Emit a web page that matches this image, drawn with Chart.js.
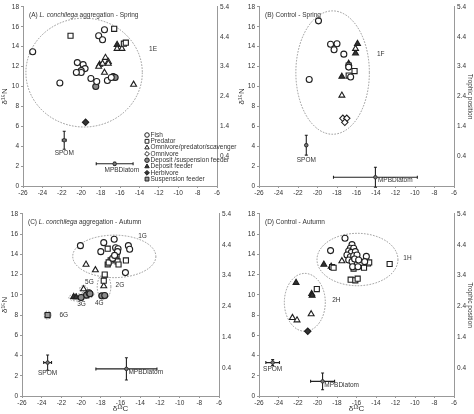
<!DOCTYPE html>
<html><head><meta charset="utf-8">
<script src="https://cdn.jsdelivr.net/npm/chart.js@4/dist/chart.umd.min.js"></script>
<style>
html,body{margin:0;padding:0;background:#fff;}
#wrap{position:relative;width:474px;height:414px;overflow:hidden;background:#fff;}
canvas{position:absolute;}
</style></head><body><div id="wrap">
<canvas id="cA" width="237" height="207" style="left:0;top:0"></canvas>
<canvas id="cB" width="237" height="207" style="left:237px;top:0"></canvas>
<canvas id="cC" width="237" height="207" style="left:0;top:207px"></canvas>
<canvas id="cD" width="237" height="207" style="left:237px;top:207px"></canvas>
</div>
<script>
// ---------- tick values ----------
const xTicks = [-26,-24,-22,-20,-18,-16,-14,-12,-10,-8,-6];
const yTicks = [0,2,4,6,8,10,12,14,16,18];
const tpTicks = [0.4,1.4,2.4,3.4,4.4,5.4];
const legendLabels = ['Fish','Predator','Omnivore/predator/scavenger','Omnivore','Deposit /suspension feeder','Deposit feeder','Herbivore','Suspension feeder'];

// ---------- Panel A : L. conchilega aggregation - Spring ----------
const A_fish = [[-25.0,13.5],[-17.6,15.7],[-18.2,15.1],[-17.8,14.7],[-20.4,12.4],[-19.8,12.2],[-19.6,11.8],[-20.0,11.6],[-20.0,11.4],[-20.5,11.4],[-19.0,10.8],[-18.4,10.5],[-17.3,10.6],[-22.2,10.35],[-16.9,10.9]];
const A_predator = [[-21.1,15.1],[-16.6,15.8],[-15.6,14.3],[-15.4,14.4]];
const A_omnPredScav = [[-16.3,13.8],[-15.8,13.8],[-17.5,12.9],[-17.2,12.5],[-18.2,12.0],[-17.8,12.3],[-17.6,11.4],[-14.6,10.2],[-17.2,12.3]];
const A_omnivore = [];
const A_depSusp = [[-18.5,10.0],[-16.7,11.0],[-16.5,10.9]];
const A_depFeeder = [[-16.3,14.2],[-18.1,12.2]];
const A_herbivore = [[-19.55,6.4]];
const A_suspFeeder = [];
const A_sources = [['SPOM',-21.75,4.6,0.2,0.9],['MPBDiatom',-16.55,2.23,1.9,0.15]];
const A_ellipses = [['1E',-19.7,11.4,6.0,5.47]];

// ---------- Panel B : Control - Spring ----------
const B_fish = [[-19.9,16.6],[-18.66,14.24],[-18.0,14.3],[-18.3,13.7],[-17.3,13.25],[-20.85,10.7],[-16.8,11.95],[-16.6,10.95]];
const B_predator = [[-16.2,11.55],[-16.8,11.1],[-16.8,12.1]];
const B_omnPredScav = [[-17.5,9.1],[-16.1,13.8]];
const B_omnivore = [[-17.4,6.8],[-17.0,6.8],[-17.2,6.4]];
const B_depSusp = [];
const B_depFeeder = [[-15.9,14.3],[-16.1,13.35],[-16.8,12.3],[-17.5,11.0]];
const B_herbivore = [];
const B_suspFeeder = [];
const B_sources = [['SPOM',-21.15,4.1,0.1,1.0],['MPBDiatom',-14.06,0.88,4.3,1.0]];
const B_ellipses = [['1F',-18.45,11.4,3.77,6.2]];

// ---------- Panel C : L. conchilega aggregation - Autumn ----------
const C_fish = [[-20.07,14.86],[-17.7,15.16],[-16.64,15.49],[-18.0,14.27],[-16.5,14.66],[-16.25,14.56],[-16.3,14.27],[-15.2,14.86],[-15.07,14.5],[-15.5,12.2],[-16.8,13.6],[-16.6,13.9]];
const C_predator = [[-17.3,14.56],[-16.4,13.8],[-16.5,13.5],[-16.3,13.3],[-16.2,13.0],[-17.0,13.4],[-17.2,13.2],[-15.45,13.4],[-17.6,12.0],[-17.7,11.4]];
const C_omnPredScav = [[-19.5,13.0],[-18.55,12.45],[-17.7,10.87],[-19.75,10.57]];
const C_omnivore = [];
const C_depSusp = [[-17.9,9.9],[-17.6,9.94],[-19.45,9.97],[-19.2,10.2],[-19.1,10.1],[-20.0,9.74]];
const C_depFeeder = [[-20.75,9.8],[-20.5,9.77]];
const C_herbivore = [];
const C_suspFeeder = [[-17.3,13.0],[-23.4,8.0]];
const C_sources = [['SPOM',-23.4,3.3,0.4,0.75],['MPBDiatom',-15.4,2.68,3.1,1.1]];
const C_ellipses = [['1G',-16.63,13.8,4.22,2.1],['2G',-17.67,10.8,0.69,1.24],['5G',-19.75,10.57,0.4,0.35],['4G',-19.3,10.07,0.6,0.4],['3G',-20.4,9.74,0.85,0.35],['6G',-23.4,8.0,0.35,0.4]];

// ---------- Panel D : Control - Autumn ----------
const D_fish = [[-17.18,15.59],[-18.66,14.37],[-16.46,14.96],[-16.63,14.6],[-16.29,14.6],[-16.8,14.33],[-16.53,14.2],[-16.12,14.27],[-16.98,13.94],[-16.63,13.77],[-16.29,13.87],[-15.95,13.94],[-16.8,13.44],[-16.46,13.28],[-16.19,13.54],[-16.4,12.78],[-15.85,12.78],[-15.78,13.44],[-14.99,13.8],[-15.16,13.28]];
const D_predator = [[-16.3,12.6],[-14.82,13.1],[-14.7,13.2],[-15.23,12.68],[-12.6,13.05],[-16.6,11.5],[-16.12,11.43],[-15.88,11.6],[-18.5,12.75],[-18.35,12.68],[-20.07,10.57],[-16.8,14.0],[-16.5,13.6]];
const D_omnPredScav = [[-17.5,13.34],[-20.65,8.1],[-22.57,7.73],[-22.1,7.5],[-18.6,12.8]];
const D_omnivore = [];
const D_depSusp = [];
const D_depFeeder = [[-19.35,13.0],[-22.2,11.2],[-20.6,10.1],[-20.55,9.94]];
const D_herbivore = [[-21.0,6.4]];
const D_suspFeeder = [];
const D_sources = [['SPOM',-24.6,3.3,0.7,0.3],['MPBDiatom',-19.48,1.45,1.23,0.83]];
const D_ellipses = [['1H',-15.9,13.49,4.15,2.59],['2H',-21.3,9.26,2.1,2.86]];

// ---------- styles ----------
const FONT = "'Liberation Sans', Arial, sans-serif";
const groupStyles = [
  {style:'circle', bg:'#ffffff', r:3},
  {style:'rect', bg:'#ffffff', r:3.6},
  {style:'triangle', bg:'#ffffff', r:3.4},
  {style:'rectRot', bg:'#ffffff', r:3.2},
  {style:'circle', bg:'#8a8a8a', r:3},
  {style:'triangle', bg:'#333333', r:3.4},
  {style:'rectRot', bg:'#333333', r:3.2},
  {style:'rect', bg:'#9a9a9a', r:3.6}
];

const panels = {
  cA: {groups:[A_fish,A_predator,A_omnPredScav,A_omnivore,A_depSusp,A_depFeeder,A_herbivore,A_suspFeeder], sources:A_sources, ellipses:A_ellipses,
       title:['(A) ','L. conchilega',' aggregation - Spring'], yw:23, y2w:20, xh:21, pt:3, tpMin:-0.6, yTitle:true, y2Title:false, xTitle:false, legend:true,
       elabel:{'1E':[-13.0,13.7]}, slabel:{SPOM:[-21.75,3.25,'center'],MPBDiatom:[-17.6,1.55,'left']}},
  cB: {groups:[B_fish,B_predator,B_omnPredScav,B_omnivore,B_depSusp,B_depFeeder,B_herbivore,B_suspFeeder], sources:B_sources, ellipses:B_ellipses,
       title:['(B) Control - Spring'], yw:22, y2w:20, xh:21, pt:3, tpMin:-0.6, yTitle:true, y2Title:true, xTitle:false, legend:false,
       elabel:{'1F':[-13.9,13.2]}, slabel:{SPOM:[-21.15,2.6,'center'],MPBDiatom:[-13.8,0.55,'left']}},
  cC: {groups:[C_fish,C_predator,C_omnPredScav,C_omnivore,C_depSusp,C_depFeeder,C_herbivore,C_suspFeeder], sources:C_sources, ellipses:C_ellipses,
       title:['(C) ','L. conchilega',' aggregation - Autumn'], yw:22, y2w:18, xh:18, pt:4, tpMin:-0.5, yTitle:true, y2Title:false, xTitle:true, legend:false,
       elabel:{'1G':[-14.2,15.8],'2G':[-16.5,10.96],'5G':[-19.6,11.2],'4G':[-18.6,9.2],'3G':[-20.4,9.05],'6G':[-22.2,8.0]}, slabel:{SPOM:[-23.4,2.25,'center'],MPBDiatom:[-15.2,2.35,'left']}},
  cD: {groups:[D_fish,D_predator,D_omnPredScav,D_omnivore,D_depSusp,D_depFeeder,D_herbivore,D_suspFeeder], sources:D_sources, ellipses:D_ellipses,
       title:['(D) Control - Autumn'], yw:22, y2w:20, xh:18, pt:4, tpMin:-0.5, yTitle:false, y2Title:true, xTitle:true, legend:false,
       elabel:{'1H':[-11.2,13.67],'2H':[-18.5,9.45]}, slabel:{SPOM:[-24.6,2.65,'center'],MPBDiatom:[-19.3,1.05,'left']}}
};

const overlay = {
  id:'overlay',
  beforeDatasetsDraw(chart){
    const p = panels[chart.canvas.id]; const xs=chart.scales.x, ys=chart.scales.y, ctx=chart.ctx;
    ctx.save();
    ctx.strokeStyle='#8c8c8c'; ctx.lineWidth=0.9; ctx.setLineDash([1.6,1.4]);
    p.ellipses.forEach(e=>{
      const cx=xs.getPixelForValue(e[1]), cy=ys.getPixelForValue(e[2]);
      const rx=Math.abs(xs.getPixelForValue(e[1]+e[3])-cx), ry=Math.abs(ys.getPixelForValue(e[2]+e[4])-cy);
      ctx.beginPath(); ctx.ellipse(cx,cy,rx,ry,0,0,Math.PI*2); ctx.stroke();
    });
    ctx.setLineDash([]);
    ctx.strokeStyle='#222'; ctx.lineWidth=1.1;
    p.sources.forEach(s=>{
      const cx=xs.getPixelForValue(s[1]), cy=ys.getPixelForValue(s[2]);
      const x0=xs.getPixelForValue(s[1]-s[3]), x1=xs.getPixelForValue(s[1]+s[3]);
      const y0=ys.getPixelForValue(s[2]-s[4]), y1=ys.getPixelForValue(s[2]+s[4]);
      ctx.beginPath();
      ctx.moveTo(x0,cy); ctx.lineTo(x1,cy);
      ctx.moveTo(x0,cy-1.5); ctx.lineTo(x0,cy+1.5);
      ctx.moveTo(x1,cy-1.5); ctx.lineTo(x1,cy+1.5);
      ctx.moveTo(cx,y0); ctx.lineTo(cx,y1);
      ctx.moveTo(cx-1.5,y0); ctx.lineTo(cx+1.5,y0);
      ctx.moveTo(cx-1.5,y1); ctx.lineTo(cx+1.5,y1);
      ctx.stroke();
    });
    ctx.restore();
  },
  afterDatasetsDraw(chart){
    const p = panels[chart.canvas.id]; const xs=chart.scales.x, ys=chart.scales.y, ctx=chart.ctx, ca=chart.chartArea;
    ctx.save();
    ctx.fillStyle='#333'; ctx.textBaseline='middle';
    let tx = ca.left+6, ty = ca.top+8;
    p.title.forEach((t,i)=>{
      ctx.font = (i===1?'italic ':'') + '6.5px ' + FONT;
      ctx.textAlign='left'; ctx.fillText(t,tx,ty); tx += ctx.measureText(t).width;
    });
    ctx.font='6.5px '+FONT;
    Object.keys(p.elabel).forEach(k=>{
      const v=p.elabel[k]; ctx.textAlign='left';
      ctx.fillText(k, xs.getPixelForValue(v[0]), ys.getPixelForValue(v[1]));
    });
    Object.keys(p.slabel).forEach(k=>{
      const v=p.slabel[k]; ctx.textAlign=v[2];
      ctx.fillText(k, xs.getPixelForValue(v[0]), ys.getPixelForValue(v[1]));
    });
    if (p.legend){
      let ly = 135;
      legendLabels.forEach((lab,i)=>{
        const g=groupStyles[i];
        ctx.fillStyle=g.bg; ctx.strokeStyle='#222'; ctx.lineWidth=1;
        Chart.helpers.drawPoint(ctx,{pointStyle:g.style, radius:g.r*0.75, rotation:0, borderWidth:1}, 147, ly);
        ctx.fillStyle='#333'; ctx.textAlign='left';
        ctx.fillText(lab, 150.5, ly);
        ly += 6.3;
      });
    }
    ctx.restore();
  }
};

function makeChart(id){
  const p = panels[id];
  const datasets = p.groups.map((g,i)=>({
    data: g.map(v=>({x:v[0], y:v[1]})),
    pointStyle: groupStyles[i].style, pointRadius: groupStyles[i].r,
    backgroundColor: groupStyles[i].bg, borderColor:'#1e1e1e', borderWidth:1.1,
    showLine:false, yAxisID:'y'
  }));
  datasets.push({
    data: p.sources.map(s=>({x:s[1], y:s[2]})),
    pointStyle:'circle', pointRadius:1.8, backgroundColor:'#777', borderColor:'#222', borderWidth:0.8, showLine:false, yAxisID:'y'
  });
  const tickFont = {size:6.5, family:FONT};
  new Chart(document.getElementById(id), {
    type:'scatter',
    data:{datasets},
    plugins:[overlay],
    options:{
      responsive:false, animation:false, devicePixelRatio:1,
      layout:{padding:{top:p.pt, left:0, right:0, bottom:0}},
      plugins:{legend:{display:false}, tooltip:{enabled:false}},
      scales:{
        x:{type:'linear', position:'bottom', min:-26, max:-6,
           afterBuildTicks:s=>{s.ticks=xTicks.map(v=>({value:v}));},
           afterFit:s=>{s.height=p.xh;},
           ticks:{font:tickFont, color:'#333', padding:1, maxRotation:0, autoSkip:false},
           grid:{drawOnChartArea:false, drawTicks:true, tickLength:2, color:'#999'},
           border:{display:true, color:'#999', width:1},
           title:{display:p.xTitle, text:'δ¹³C', font:{size:8, family:FONT}, color:'#333', padding:{top:0,bottom:0}}},
        y:{type:'linear', position:'left', min:0, max:18,
           afterBuildTicks:s=>{s.ticks=yTicks.map(v=>({value:v}));},
           afterFit:s=>{s.width=p.yw;},
           ticks:{font:tickFont, color:'#333', padding:2, autoSkip:false},
           grid:{drawOnChartArea:false, drawTicks:true, tickLength:2, color:'#999'},
           border:{display:true, color:'#999', width:1},
           title:{display:p.yTitle, text:'δ¹⁵N', font:{size:8, family:FONT}, color:'#333', padding:{top:0,bottom:1}}},
        y2:{type:'linear', position:'right', min:p.tpMin, max:5.4,
           afterBuildTicks:s=>{s.ticks=tpTicks.map(v=>({value:v}));},
           afterFit:s=>{s.width=p.y2w;},
           ticks:{font:tickFont, color:'#333', padding:3, autoSkip:false, callback:v=>Number(v).toFixed(1)},
           grid:{drawOnChartArea:false, drawTicks:false, color:'#999'},
           border:{display:true, color:'#999', width:1},
           title:{display:p.y2Title, text:'Trophic position', font:{size:6.5, family:FONT}, color:'#333', padding:{top:0,bottom:0}}}
      }
    }
  });
}
['cA','cB','cC','cD'].forEach(makeChart);
</script>
</body></html>
